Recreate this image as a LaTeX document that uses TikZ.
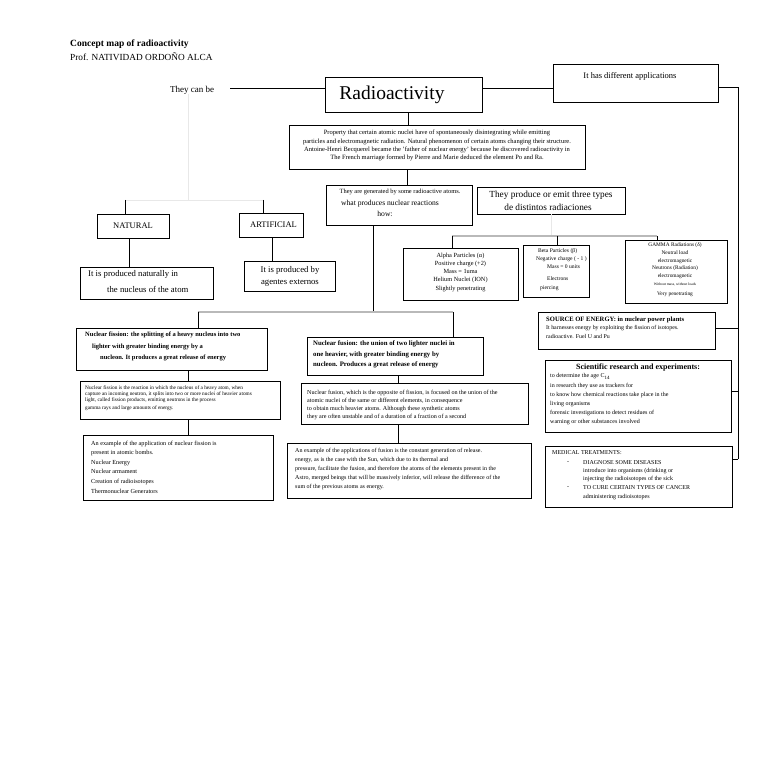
\documentclass[tikz,border=0pt]{standalone}
\usepackage{fontspec}
\setmainfont{Liberation Serif}
\newcommand\fs[2]{\fontsize{#1}{#2}\selectfont}
\tikzset{
 bx/.style={draw, line width=0.8pt, inner sep=0pt, rectangle},
 tx/.style={inner sep=0pt, align=left},
 ln/.style={line width=0.8pt},
 gl/.style={line width=1.1pt, gray!55},
 fl/.style={line width=0.6pt, gray!18},
}
\begin{document}
\begin{tikzpicture}[x=1pt,y=-1pt]
\useasboundingbox[fill=white] (0,0) rectangle (768,762);

% ---------- titles ----------
\node[tx, anchor=west, font=\fs{9.5}{11}\bfseries] (title) at (70,44) {Concept map of radioactivity};
\node[tx, anchor=west, font=\fs{9.3}{11}] (prof) at (70,56.5) {Prof. NATIVIDAD ORDOÑO ALCA};
\node[tx, font=\fs{9}{11}] (theycan) at (192,90) {They can be};

% ---------- boxes ----------
\node[bx, minimum width=157pt, minimum height=35pt] (radio) at (403.5,94.5) {};
\node[bx, minimum width=165pt, minimum height=38pt] (apps) at (635.5,83) {};
\node[bx, minimum width=296pt, minimum height=44pt] (prop) at (437,147) {};
\node[bx, minimum width=146pt, minimum height=40pt] (gen) at (399,205) {};
\node[bx, minimum width=148pt, minimum height=27pt] (emit) at (551,200.5) {};
\node[bx, minimum width=115pt, minimum height=52pt] (alpha) at (460.5,274) {};
\node[bx, minimum width=66pt, minimum height=52pt] (beta) at (556,271) {};
\node[bx, minimum width=102pt, minimum height=63pt] (gamma) at (676,271.5) {};
\node[bx, minimum width=72pt, minimum height=24pt] (nat) at (133,226) {};
\node[bx, minimum width=64pt, minimum height=24pt] (art) at (271,225) {};
\node[bx, minimum width=133pt, minimum height=32pt] (natd) at (146.5,283) {};
\node[bx, minimum width=91pt, minimum height=30pt] (artd) at (289.5,276) {};
\node[bx, minimum width=191pt, minimum height=42pt] (fis1) at (171.5,349) {};
\node[bx, minimum width=200pt, minimum height=38pt] (fis2) at (180,400) {};
\node[bx, minimum width=190pt, minimum height=65pt] (fis3) at (178,467.5) {};
\node[bx, minimum width=176pt, minimum height=38pt] (fus1) at (395,356) {};
\node[bx, minimum width=227pt, minimum height=41pt] (fus2) at (414.5,403.5) {};
\node[bx, minimum width=244pt, minimum height=55pt] (fus3) at (409,470.5) {};
\node[bx, minimum width=177pt, minimum height=37pt] (src) at (626.5,330.5) {};
\node[bx, minimum width=186pt, minimum height=72pt] (sci) at (638,396) {};
\node[bx, minimum width=187pt, minimum height=61pt] (med) at (638.5,476.5) {};

% ---------- texts ----------
\node[tx, font=\fs{19.5}{22}] (radioT) at (392,95) {Radioactivity};
\node[tx, font=\fs{8.5}{10}] (appsT) at (630,76) {It has different applications};
\node[tx, anchor=north, align=center, font=\fs{6.5}{8.3}] (propT) at (437,130)
 {Property that certain atomic nuclei have of spontaneously disintegrating while emitting\\
  particles and electromagnetic radiation. Natural phenomenon of certain atoms changing their structure.\\
  Antoine-Henri Becquerel became the 'father of nuclear energy' because he discovered radioactivity in\\
  The French marriage formed by Pierre and Marie deduced the element Po and Ra.};
\node[tx, font=\fs{6.4}{7}] (genA) at (400,192) {They are generated by some radioactive atoms.};
\node[tx, font=\fs{7.6}{9}] (genB) at (390,204) {what produces nuclear reactions};
\node[tx, font=\fs{7.6}{9}] (genC) at (385,214) {how:};
\node[tx, font=\fs{9.3}{11}] (emitA) at (551,195) {They produce or emit three types};
\node[tx, font=\fs{9.3}{11}] (emitB) at (548,207) {de distintos radiaciones};
\node[tx, anchor=north, align=center, font=\fs{6.3}{8.25}] (alphaT) at (460.5,252.5)
 {Alpha Particles (α)\\ Positive charge (+2)\\ Mass = 1uma\\ Helium Nuclei (ION)\\ Slightly penetrating};
\node[tx, anchor=west, font=\fs{5.6}{7}] (betaA) at (538,251) {Beta Particles (β)};
\node[tx, anchor=west, font=\fs{5.6}{7}] (betaB) at (536,259.5) {Negative charge ( - 1 )};
\node[tx, anchor=west, font=\fs{5.6}{7}] (betaC) at (547,267) {Mass = 0 units};
\node[tx, anchor=west, font=\fs{5.6}{7}] (betaD) at (547,278.5) {Electrons};
\node[tx, anchor=west, font=\fs{5.6}{7}] (betaE) at (540,288.5) {piercing};
\node[tx, font=\fs{5.4}{7}] (gamA) at (675,245) {GAMMA Radiations (δ)};
\node[tx, font=\fs{5.4}{7}] (gamB) at (675,253) {Neutral load};
\node[tx, font=\fs{5.4}{7}] (gamC) at (675,261) {electromagnetic};
\node[tx, font=\fs{5.4}{7}] (gamD) at (675,268.5) {Neutrons (Radiation)};
\node[tx, font=\fs{5.4}{7}] (gamE) at (675,276) {electromagnetic};
\node[tx, font=\fs{3.7}{5}] (gamF) at (675,284.5) {Without mass, without loads};
\node[tx, font=\fs{5.4}{7}] (gamG) at (675,294) {Very penetrating};
\node[tx, font=\fs{8.5}{10}] (natT) at (133,226) {NATURAL};
\node[tx, anchor=west, font=\fs{8.5}{10}] (artT) at (250,225) {ARTIFICIAL};
\node[tx, anchor=west, font=\fs{8.7}{10}] (natdA) at (88,274) {It is produced naturally in};
\node[tx, anchor=west, font=\fs{8.7}{10}] (natdB) at (107,289) {the nucleus of the atom};
\node[tx, font=\fs{8.7}{10}] (artdA) at (290,270) {It is produced by};
\node[tx, font=\fs{8.7}{10}] (artdB) at (290,283) {agentes externos};
\node[tx, anchor=west, font=\fs{6.5}{8}\bfseries] (fis1A) at (85,335) {Nuclear fission: the splitting of a heavy nucleus into two};
\node[tx, anchor=west, font=\fs{6.5}{8}\bfseries] (fis1B) at (92,347) {lighter with greater binding energy by a};
\node[tx, anchor=west, font=\fs{6.5}{8}\bfseries] (fis1C) at (100,357.5) {nucleon. It produces a great release of energy};
\node[tx, anchor=north west, font=\fs{5.3}{6.1}] (fis2T) at (85,385.8)
 {Nuclear fission is the reaction in which the nucleus of a heavy atom, when\\
  capture an incoming neutron, it splits into two or more nuclei of heavier atoms\\
  light, called fission products, emitting neutrons in the process\\[1.6pt]
  gamma rays and large amounts of energy.};
\node[tx, anchor=north west, font=\fs{6.2}{9.6}] (fis3T) at (91,440.5)
 {An example of the application of nuclear fission is\\ present in atomic bombs.\\ Nuclear Energy\\
  Nuclear armament\\ Creation of radioisotopes\\ Thermonuclear Generators};
\node[tx, anchor=west, font=\fs{6.8}{8}\bfseries] (fus1A) at (313,344) {Nuclear fusion: the union of two lighter nuclei in};
\node[tx, anchor=west, font=\fs{6.8}{8}\bfseries] (fus1B) at (313,354.5) {one heavier, with greater binding energy by};
\node[tx, anchor=west, font=\fs{6.8}{8}\bfseries] (fus1C) at (313,365) {nucleon. Produces a great release of energy};
\node[tx, anchor=north west, font=\fs{6.1}{8}] (fus2T) at (307,389.6)
 {Nuclear fusion, which is the opposite of fission, is focused on the union of the\\
  atomic nuclei of the same or different elements, in consequence\\
  to obtain much heavier atoms. Although these synthetic atoms\\
  they are often unstable and of a duration of a fraction of a second};
\node[tx, anchor=north west, font=\fs{6}{9.2}] (fus3T) at (295,447.6)
 {An example of the applications of fusion is the constant generation of release.\\
  energy, as is the case with the Sun, which due to its thermal and\\
  pressure, facilitate the fusion, and therefore the atoms of the elements present in the\\
  Astro, merged beings that will be massively inferior, will release the difference of the\\
  sum of the previous atoms as energy.};
\node[tx, anchor=west, font=\fs{6.6}{8}\bfseries] (srcA) at (546,320) {SOURCE OF ENERGY: in nuclear power plants};
\node[tx, anchor=north west, font=\fs{5.9}{9}] (srcB) at (546,325.6)
 {It harnesses energy by exploiting the fission of isotopes.\\ radioactive. Fuel U and Pu};
\node[tx, font=\fs{8}{9}\bfseries] (sciA) at (638,367.5) {Scientific research and experiments:};
\node[tx, anchor=north west, font=\fs{6}{9.2}] (sciB) at (550,373.6)
 {to determine the age C\textsubscript{14}\\ in research they use as trackers for\\
  to know how chemical reactions take place in the\\ living organisms\\
  forensic investigations to detect residues of\\ warning or other substances involved};
\node[tx, anchor=west, font=\fs{6}{7}] (medA) at (552,453) {MEDICAL TREATMENTS:};
\node[tx, anchor=west, font=\fs{6}{7}] (medB) at (567,462.5) {-};
\node[tx, anchor=west, font=\fs{6}{7}] (medC) at (583,462.5) {DIAGNOSE SOME DISEASES};
\node[tx, anchor=west, font=\fs{6}{7}] (medD) at (583,471) {introduce into organisms (drinking or};
\node[tx, anchor=west, font=\fs{6}{7}] (medE) at (583,479.5) {injecting the radioisotopes of the sick};
\node[tx, anchor=west, font=\fs{6}{7}] (medF) at (567,488) {-};
\node[tx, anchor=west, font=\fs{6}{7}] (medG) at (583,488) {TO CURE CERTAIN TYPES OF CANCER};
\node[tx, anchor=west, font=\fs{6}{7}] (medH) at (583,497) {administering radioisotopes};

% ---------- helper coordinates ----------
\coordinate (tcL) at (230,88);
\coordinate (y88) at (0,88);
\coordinate (spT) at (738,87);
\coordinate (spB) at (738,459);
\coordinate (x408) at (408,0);
\coordinate (x407) at (407,0);
\coordinate (x373) at (373,0);
\coordinate (jL) at (198,312);
\coordinate (jR) at (453,312);
\coordinate (x188) at (188,0);
\coordinate (x398) at (398,0);
\coordinate (x129) at (129,0);
\coordinate (x272) at (272,0);
\coordinate (tL) at (125,200);
\coordinate (tR) at (263,200);
\coordinate (rbL) at (452,236);
\coordinate (rbM) at (557,236);
\coordinate (rbR) at (657,236);
\coordinate (x551) at (551,0);
\coordinate (y328) at (0,328);
\coordinate (y391) at (0,391);

% ---------- connectors ----------
\draw[ln] (tcL) -- (tcL -| radio.west);
\draw[ln] (radio.east |- y88) -- (apps.west |- y88);
\draw[ln] (apps.east |- spT) -- (spT) -- (spB);
\draw[ln] (src.east |- y328) -- (spT |- y328);
\draw[ln] (sci.east |- y391) -- (spT |- y391);
\draw[ln] (med.east |- spB) -- (spB);
\draw[ln] (x408 |- radio.south) -- (x408 |- prop.north);
\draw[ln] (x407 |- prop.south) -- (x407 |- gen.north);
\draw[ln] (x373 |- gen.south) -- (x373 |- jL);
\draw[gl] (jL) -- (jR);
\draw[ln] (jL) -- (jL |- fis1.north);
\draw[ln] (jR) -- (jR |- fus1.north);
\draw[ln] (x188 |- fis1.south) -- (x188 |- fis2.north);
\draw[ln] (x188 |- fis2.south) -- (x188 |- fis3.north);
\draw[ln] (x398 |- fus1.south) -- (x398 |- fus2.north);
\draw[ln] (x398 |- fus2.south) -- (x398 |- fus3.north);
\draw[fl] (x188 |- theycan.south) -- (x188 |- tL);
\draw[fl] (tL) -- (tR);
\draw[ln] (tL) -- (tL |- nat.north);
\draw[ln] (tR) -- (tR |- art.north);
\draw[ln] (x129 |- nat.south) -- (x129 |- natd.north);
\draw[ln] (x272 |- art.south) -- (x272 |- artd.north);
\draw[fl] (x551 |- emit.south) -- (x551 |- rbM);
\draw[gl] (rbL) -- (rbR);
\draw[ln] (rbL) -- (rbL |- alpha.north);
\draw[ln] (rbM) -- (rbM |- beta.north);
\draw[ln] (rbR) -- (rbR |- gamma.north);
\end{tikzpicture}
\end{document}
